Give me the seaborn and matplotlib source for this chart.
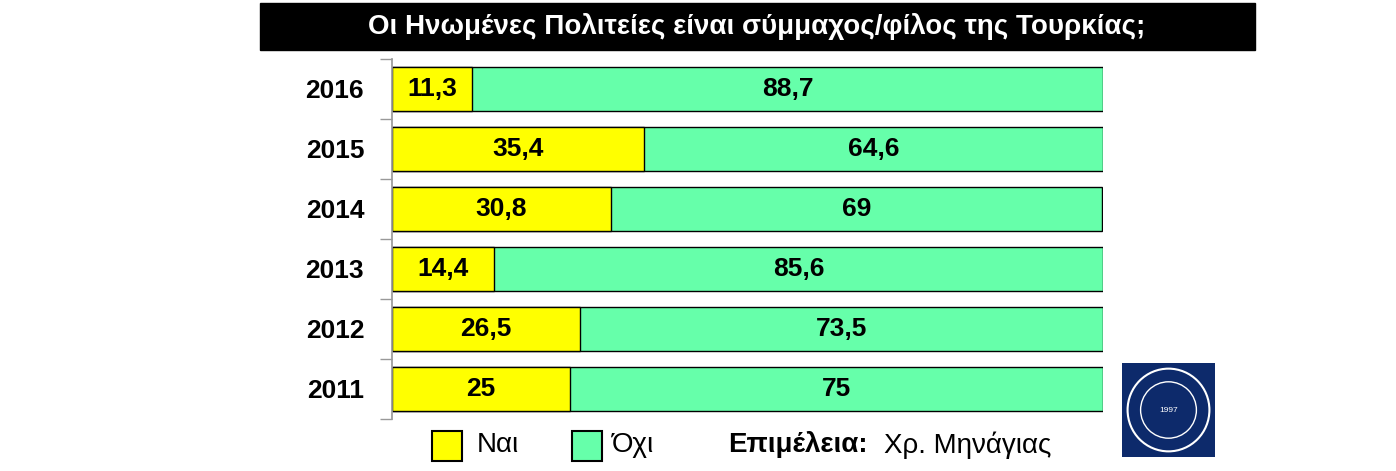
import matplotlib
matplotlib.use("Agg")
import matplotlib.pyplot as plt
import seaborn as sns
import pandas as pd
from matplotlib.patches import Rectangle, Circle

years = ["2016", "2015", "2014", "2013", "2012", "2011"]
nai = [11.3, 35.4, 30.8, 14.4, 26.5, 25]
ochi = [88.7, 64.6, 69, 85.6, 73.5, 75]
labels_nai = ["11,3", "35,4", "30,8", "14,4", "26,5", "25"]
labels_ochi = ["88,7", "64,6", "69", "85,6", "73,5", "75"]

sns.set_theme(style="white")
plt.rcParams['font.family'] = ['Liberation Sans', 'DejaVu Sans']
plt.rcParams['text.color'] = 'black'
plt.rcParams['ytick.color'] = 'black'

df = pd.DataFrame({"year": years, "nai": nai, "total": [a + b for a, b in zip(nai, ochi)]})

fig = plt.figure(figsize=(13.96, 4.71), dpi=100)
ax = fig.add_axes([392/1396, 1-419/471, (1103-392)/1396, (419-59)/471])
sns.barplot(data=df, y="year", x="total", orient="h", color="#66FFAA", saturation=1,
            edgecolor="black", linewidth=1, width=0.72, ax=ax)
sns.barplot(data=df, y="year", x="nai", orient="h", color="#FFFF00", saturation=1,
            edgecolor="black", linewidth=1, width=0.72, ax=ax)
ax.set_xlim(0, 100)
ax.set_ylim(5.5, -0.5)
ax.set_xlabel(""); ax.set_ylabel("")
ax.set_xticks([])
for s in ["top", "right", "bottom"]:
    ax.spines[s].set_visible(False)
ax.spines["left"].set_color("#999999")
ax.set_yticks([i + 0.5 for i in range(-1, 6)], minor=True)
ax.tick_params(axis="y", which="minor", length=9, color="#999999", width=1, left=True)
ax.tick_params(axis="y", which="major", length=0, labelsize=19, pad=20, labelcolor="black")
for t in ax.get_yticklabels():
    t.set_fontweight("bold")
for i in range(len(years)):
    ax.text(nai[i] / 2, i, labels_nai[i], ha="center", va="center", fontsize=19, fontweight="bold", color="black")
    ax.text(nai[i] + ochi[i] / 2, i, labels_ochi[i], ha="center", va="center", fontsize=19, fontweight="bold", color="black")

# title
fig.patches.append(Rectangle((260/1396, 1-50/471), (1255-260)/1396, 47/471,
                             transform=fig.transFigure, color="black"))
fig.text(757/1396, 1-27/471, "Οι Ηνωμένες Πολιτείες είναι σύμμαχος/φίλος της Τουρκίας;",
         color="white", fontsize=20, fontweight="bold", ha="center", va="center")

# legend
fig.patches.append(Rectangle((432/1396, 1-461/471), 30/1396, 30/471, transform=fig.transFigure,
                             facecolor="#FFFF00", edgecolor="black", lw=1.5))
fig.text(477/1396, 1-445/471, "Ναι", fontsize=20, va="center")
fig.patches.append(Rectangle((572/1396, 1-461/471), 30/1396, 30/471, transform=fig.transFigure,
                             facecolor="#66FFAA", edgecolor="black", lw=1.5))
fig.text(612/1396, 1-445/471, "Όχι", fontsize=20, va="center")
fig.text(728/1396, 1-445/471, "Επιμέλεια:", fontsize=20, fontweight="bold", va="center")
fig.text(884/1396, 1-445/471, "Χρ. Μηνάγιας", fontsize=20, va="center")

# logo placeholder
lax = fig.add_axes([1122/1396, 1-457/471, 93/1396, 94/471])
lax.set_facecolor("#0d2a6b")
lax.set_xlim(0, 1); lax.set_ylim(0, 1)
lax.set_xticks([]); lax.set_yticks([])
for s in lax.spines.values():
    s.set_visible(False)
lax.add_patch(Circle((0.5, 0.5), 0.44, fill=False, ec="white", lw=1.5))
lax.add_patch(Circle((0.5, 0.5), 0.30, fill=False, ec="white", lw=1))
lax.text(0.5, 0.5, "1997", color="white", fontsize=6, ha="center", va="center")

fig.savefig("out.png", dpi=100, facecolor="white")
